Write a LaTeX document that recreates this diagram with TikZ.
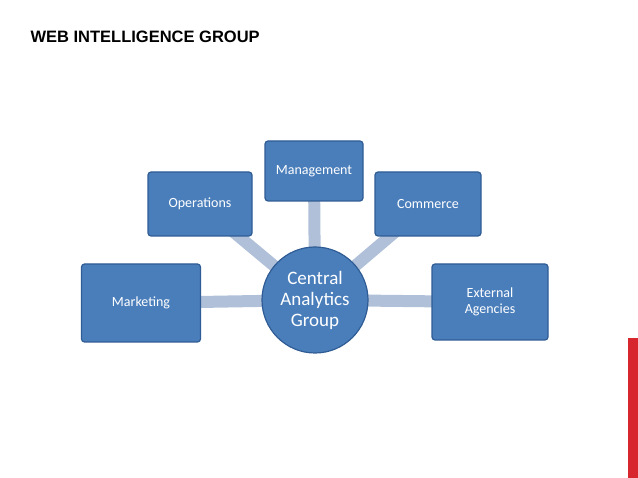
\documentclass[tikz,border=0pt]{standalone}
\usepackage{fontspec}
\setmainfont{Liberation Sans}
\newfontfamily\boxfont{Carlito}
\definecolor{boxfill}{HTML}{4A7EBB}
\definecolor{boxedge}{HTML}{2F5C94}
\definecolor{barcol}{HTML}{AFC0D8}
\definecolor{redbar}{HTML}{D7262E}
\usetikzlibrary{backgrounds}
\begin{document}
\begin{tikzpicture}[x=1pt,y=-1pt,
  box/.style={draw=boxedge, line width=1.2pt, fill=boxfill, rounded corners=3pt,
    text=white, font=\boxfont\fontsize{14}{16}\selectfont, align=center, inner sep=2pt},
  bar/.style={draw=barcol, line width=12pt}]
\useasboundingbox (0,0) rectangle (638,478);
\fill[redbar] (628,338) rectangle (638,478);
\node[anchor=west, font=\bfseries\fontsize{16.5}{18}\selectfont] (title) at (27,37) {WEB INTELLIGENCE GROUP};
\node[box, minimum width=98pt, minimum height=60pt] (mgmt) at (314,171) {Management};
\node[box, minimum width=104pt, minimum height=64pt] (ops) at (200,204) {Operations};
\node[box, minimum width=106pt, minimum height=64pt] (com) at (428,204) {Commerce};
\node[box, minimum width=119pt, minimum height=78pt] (mkt) at (141,303) {Marketing};
\node[box, minimum width=116pt, minimum height=76pt] (ext) at (490,302) {External\\Agencies};
\node[box, circle, minimum size=106pt, font=\boxfont\fontsize{19}{21}\selectfont, rounded corners=0pt] (cag) at (315,300) {Central\\Analytics\\Group};
\begin{scope}[on background layer]
\draw[bar] (cag.center) -- (mgmt.center);
\draw[bar] (cag.center) -- (ops.center);
\draw[bar] (cag.center) -- (com.center);
\draw[bar] (cag.center) -- (mkt.center);
\draw[bar] (cag.center) -- (ext.center);
\end{scope}
\end{tikzpicture}
\end{document}
